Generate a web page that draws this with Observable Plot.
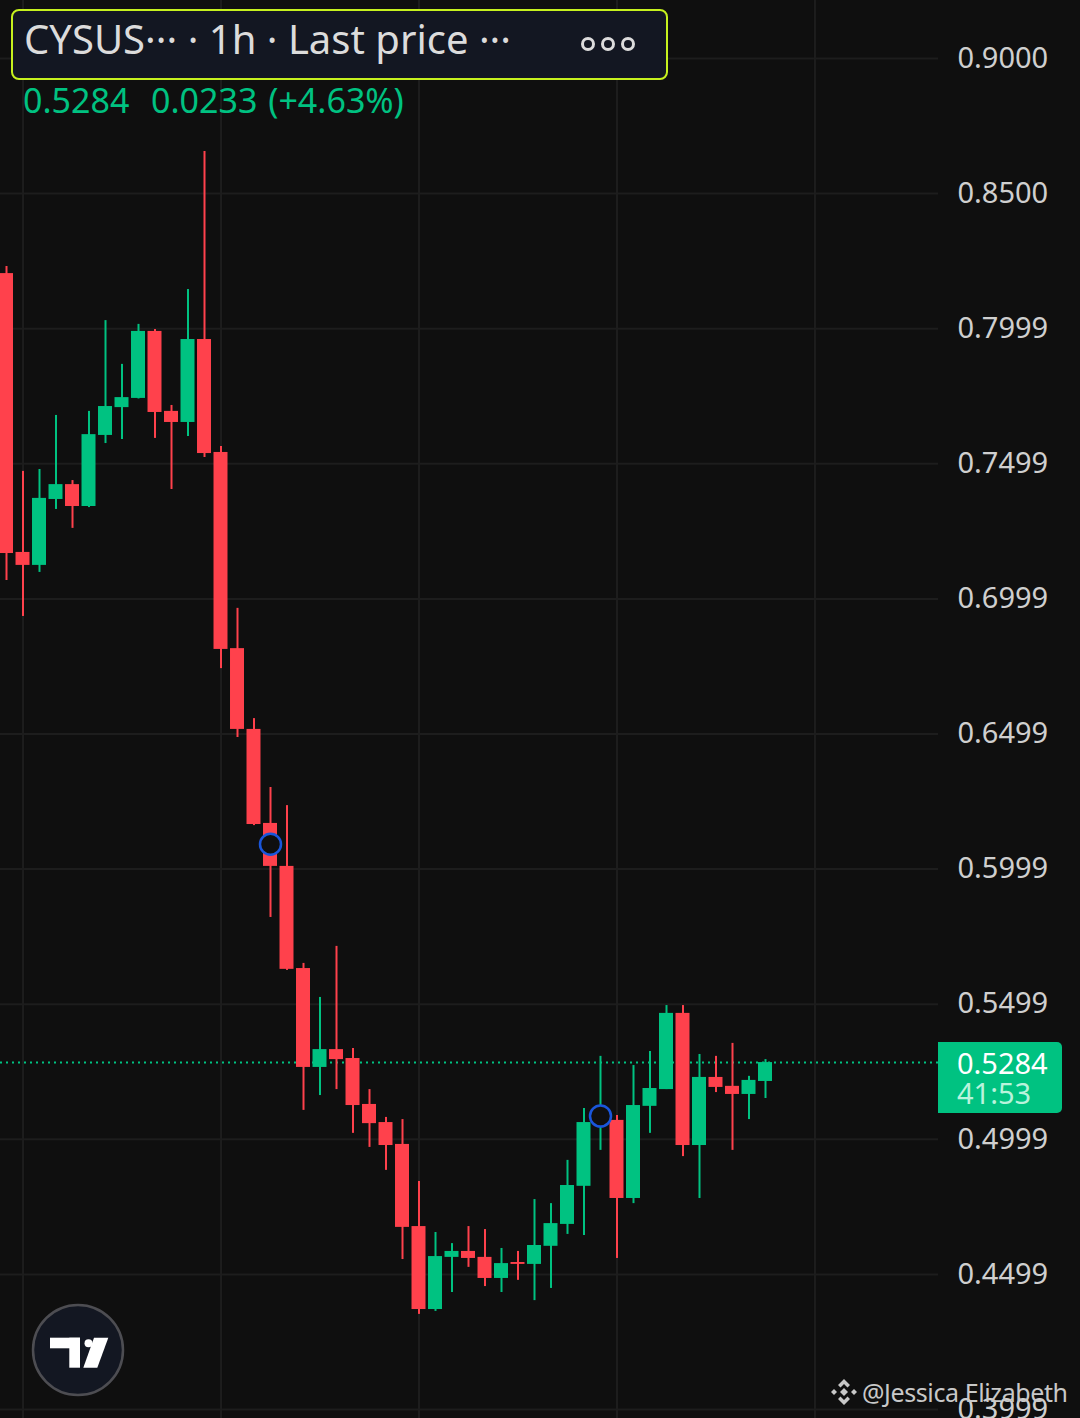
<!DOCTYPE html>
<html>
<head>
<meta charset="utf-8">
<script src="https://cdn.jsdelivr.net/npm/d3@7"></script>
<script src="https://cdn.jsdelivr.net/npm/@observablehq/plot@0.6"></script>
<style>
  html, body { margin: 0; padding: 0; background: #0f0f0f; overflow: hidden; }
  #wrap { position: relative; width: 1080px; height: 1418px; font-family: "Noto Sans", "Open Sans", sans-serif; }
  #chart svg { display: block; }
  .abs { position: absolute; white-space: nowrap; }
  #hdrBox { left: 11px; top: 9px; width: 657px; height: 71px; box-sizing: border-box;
            border: 2px solid #c6f11e; border-radius: 8px; background: #131722; }
  #hdrTitle { left: 24px; top: 14px; font-size: 40px; line-height: 50px; color: #dcdcdc; }
  #hdrStats { left: 23px; top: 77px; font-size: 34px; color: #00c281; word-spacing: 2px; }
  #priceTag { left: 938px; width: 124px; height: 71px; background: #00c281; border-radius: 0 5px 5px 0; }
  #priceTag .p { position: absolute; left: 19px; top: 2px; font-size: 29px; line-height: 37px; color: #ffffff; }
  #priceTag .t { position: absolute; left: 19px; top: 32px; font-size: 29px; line-height: 37px; color: #b9f3dc; }
  #wm { left: 830px; top: 1376px; height: 32px; display: flex; align-items: center; gap: 4px; color: #c8c8c8; }
  #wm span { font-size: 25px; letter-spacing: -0.4px; }
</style>
</head>
<body>
<div id="wrap"><div id="chart"></div></div>
<script>
// ---------- data (CYSUS, 1h candles) ----------
const opens  = [0.8204,0.7172,0.7124,0.7368,0.7423,0.7342,0.7605,0.7708,0.7742,0.7990,
                0.7694,0.7653,0.7960,0.7542,0.6816,0.6517,0.6169,0.6010,0.5632,0.5266,
                0.5332,0.5299,0.5129,0.5062,0.4981,0.4677,0.4370,0.4563,0.4585,0.4563,
                0.4485,0.4544,0.4537,0.4604,0.4685,0.4826,0.5058,0.5070,0.4781,0.5122,
                0.5184,0.5466,0.4977,0.5229,0.5196,0.5166,0.5214];
const highs  = [0.8230,0.7472,0.7479,0.7679,0.7438,0.7694,0.8030,0.7868,0.8016,0.7997,
                0.7716,0.8145,0.8656,0.7564,0.6965,0.6557,0.6302,0.6235,0.5651,0.5525,
                0.5714,0.5336,0.5184,0.5081,0.5073,0.4844,0.4655,0.4614,0.4677,0.4666,
                0.4596,0.4585,0.4777,0.4762,0.4922,0.5114,0.5307,0.5088,0.5273,0.5325,
                0.5495,0.5495,0.5314,0.5307,0.5355,0.5233,0.5295];
const lows   = [0.7068,0.6935,0.7098,0.7331,0.7261,0.7338,0.7575,0.7590,0.7740,0.7594,
                0.7405,0.7601,0.7523,0.6742,0.6487,0.6161,0.5821,0.5625,0.5107,0.5162,
                0.5184,0.5022,0.4970,0.4885,0.4555,0.4352,0.4363,0.4433,0.4526,0.4455,
                0.4433,0.4478,0.4403,0.4448,0.4648,0.4644,0.4959,0.4559,0.4762,0.5022,
                0.5184,0.4936,0.4781,0.5173,0.4959,0.5073,0.5151];
const closes = [0.7168,0.7124,0.7372,0.7423,0.7342,0.7608,0.7712,0.7745,0.7990,0.7690,
                0.7653,0.7960,0.7538,0.6813,0.6517,0.6165,0.6010,0.5629,0.5266,0.5332,
                0.5295,0.5125,0.5058,0.4977,0.4674,0.4370,0.4566,0.4585,0.4559,0.4485,
                0.4540,0.4537,0.4607,0.4688,0.4829,0.5062,0.5080,0.4781,0.5125,0.5188,
                0.5466,0.4977,0.5229,0.5192,0.5166,0.5218,0.5284];
const markerCandles = [16, 36];
const markerPrices  = [0.6092, 0.5086];
const yTicks      = [0.90, 0.85, 0.80, 0.75, 0.70, 0.65, 0.60, 0.55, 0.50, 0.45, 0.40];
const yTickLabels = ["0.9000","0.8500","0.7999","0.7499","0.6999","0.6499","0.5999","0.5499","0.4999","0.4499","0.3999"];
const timeGridCandles = [1, 13, 25, 37, 49];   // every 12 hours
const titleText = "CYSUS··· · 1h · Last price ···";
const lastPrice = 0.5284;
const lastPriceLabel = "0.5284";
const changeLabel = "0.0233";
const changePctLabel = "(+4.63%)";
const countdownLabel = "41:53";
const watermarkText = "@Jessica Elizabeth";

// ---------- styles ----------
const GREEN = "#00c281", RED = "#ff414c", GRID = "#1d1d1d", BG = "#0f0f0f";

const candles = opens.map((o, i) => ({
  i, open: o, high: highs[i], low: lows[i], close: closes[i],
  col: closes[i] >= o ? GREEN : RED
}));
const markers = markerCandles.map((c, k) => ({ c, p: markerPrices[k] }));

const plot = Plot.plot({
  width: 1080, height: 1418,
  marginLeft: 0, marginRight: 142, marginTop: 0, marginBottom: 0,
  style: { background: BG, fontFamily: "'Noto Sans', 'Open Sans', sans-serif", color: "#cfcfcf" },
  x: { type: "linear", domain: [-0.364, 56.485], axis: null },
  y: { type: "linear", domain: [0.39667, 0.92147], axis: null },
  color: { type: "identity" },
  marks: [
    Plot.ruleY(yTicks, { stroke: GRID, strokeWidth: 2 }),
    Plot.ruleX(timeGridCandles, { stroke: GRID, strokeWidth: 2 }),
    Plot.ruleY([lastPrice], { stroke: GREEN, strokeWidth: 2, strokeDasharray: "2,4" }),
    Plot.ruleX(candles, { x: "i", y1: "low", y2: "high", stroke: "col", strokeWidth: 2 }),
    Plot.rect(candles, { x1: d => d.i - 0.424, x2: d => d.i + 0.424, y1: "open", y2: "close", fill: "col" }),
    Plot.dot(markers, { x: "c", y: "p", r: 10.5, stroke: "#1a56db", strokeWidth: 2.5, fill: BG }),
    Plot.axisY(yTicks, {
      anchor: "right", tickSize: 0, tickPadding: 19, label: null,
      tickFormat: d => yTickLabels[yTicks.indexOf(d)],
      fontSize: 29, color: "#cfcfcf"
    })
  ]
});
document.getElementById("chart").appendChild(plot);

// ---------- overlays ----------
const wrap = document.getElementById("wrap");
function addDiv(id, html) {
  const d = document.createElement("div");
  d.className = "abs"; d.id = id; d.innerHTML = html;
  wrap.appendChild(d); return d;
}
addDiv("hdrBox", "");
addDiv("hdrTitle", titleText);
addDiv("hdrDots", `<svg width="60" height="20" viewBox="0 0 60 20">
  <circle cx="9" cy="10" r="5.5" fill="none" stroke="#dcdcdc" stroke-width="3"/>
  <circle cx="29" cy="10" r="5.5" fill="none" stroke="#dcdcdc" stroke-width="3"/>
  <circle cx="49" cy="10" r="5.5" fill="none" stroke="#dcdcdc" stroke-width="3"/></svg>`);
const hd = document.getElementById("hdrDots"); hd.style.left = "579px"; hd.style.top = "34px";
addDiv("hdrStats", `${lastPriceLabel}&nbsp; ${changeLabel} ${changePctLabel}`);

const py = plot.scale("y").apply(lastPrice);
const tag = addDiv("priceTag", `<div class="p">${lastPriceLabel}</div><div class="t">${countdownLabel}</div>`);
tag.style.top = (py - 20) + "px";

addDiv("tvLogo", `<svg width="160" height="128" viewBox="0 0 160 128">
  <circle cx="78" cy="60" r="45" fill="#131722" stroke="#4d4d52" stroke-width="2.5"/>
  <rect x="50" y="47.7" width="30" height="10.6" fill="#ffffff"/>
  <rect x="69.3" y="47.7" width="10.7" height="30" fill="#ffffff"/>
  <circle cx="88.5" cy="53.3" r="4" fill="#ffffff"/>
  <polygon points="94,47.7 108.3,47.7 97.3,77.7 83.3,77.7" fill="#ffffff"/></svg>`);
const tl = document.getElementById("tvLogo"); tl.style.left = "0px"; tl.style.top = "1290px";

addDiv("wm", `<svg width="28" height="28" viewBox="0 0 28 28" fill="#c8c8c8">
  <polygon points="14,10 18,14 14,18 10,14"/>
  <polygon points="4,11 7,14 4,17 1,14"/>
  <polygon points="24,11 27,14 24,17 21,14"/>
  <polygon points="14,1 20,7 17.5,9.5 14,6 10.5,9.5 8,7"/>
  <polygon points="14,27 20,21 17.5,18.5 14,22 10.5,18.5 8,21"/></svg><span>${watermarkText}</span>`);
</script>
</body>
</html>
